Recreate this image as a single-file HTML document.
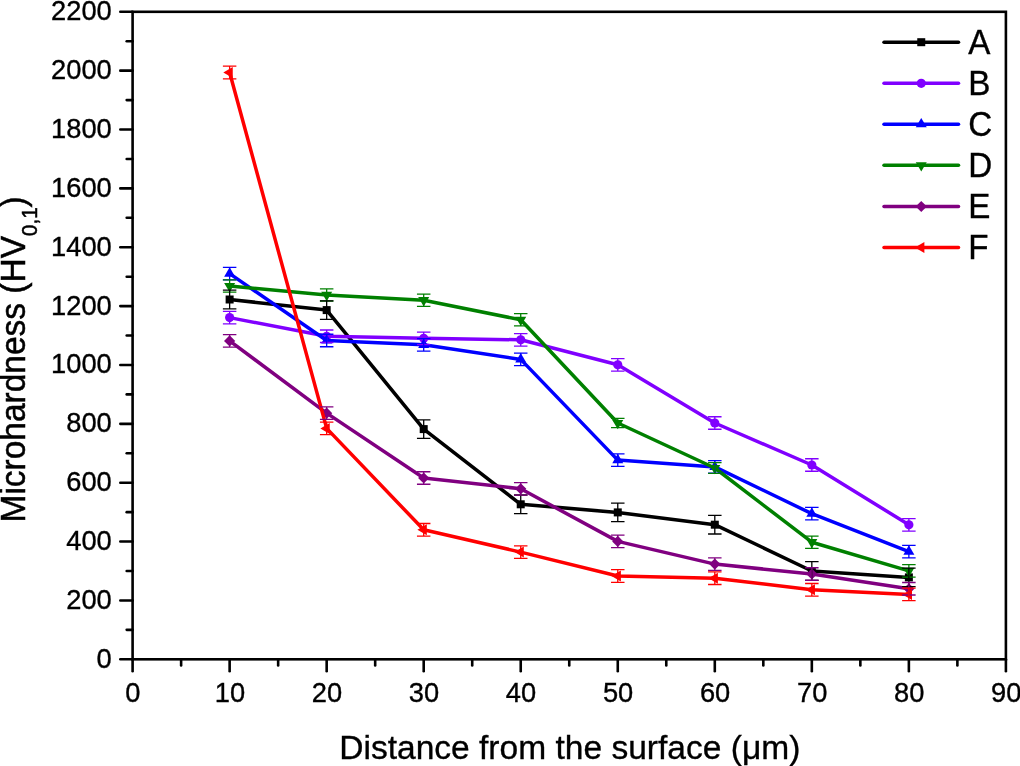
<!DOCTYPE html>
<html lang="en">
<head>
<meta charset="utf-8">
<title>Microhardness vs distance from the surface</title>
<style>
html,body{margin:0;padding:0;background:#fff;}
body{width:1020px;height:766px;overflow:hidden;}
svg{display:block;}
text{font-family:"Liberation Sans",Arial,Helvetica,sans-serif;fill:#000;}
.tick{font-size:27.3px;}
.lab{font-size:33.55px;}
text{stroke:#000;stroke-width:0.35px;}
.ax{stroke:#000;stroke-width:2.6;fill:none;stroke-linecap:round;}
</style>
</head>
<body>
<svg width="1020" height="766" viewBox="0 0 1020 766">
<rect x="0" y="0" width="1020" height="766" fill="#ffffff"/>

<rect class="ax" x="132.6" y="11.8" width="873.30" height="647.50"/>
<g class="ax">
<line x1="120.30" y1="659.30" x2="132.60" y2="659.30"/>
<line x1="126.70" y1="629.87" x2="132.60" y2="629.87"/>
<line x1="120.30" y1="600.44" x2="132.60" y2="600.44"/>
<line x1="126.70" y1="571.00" x2="132.60" y2="571.00"/>
<line x1="120.30" y1="541.57" x2="132.60" y2="541.57"/>
<line x1="126.70" y1="512.14" x2="132.60" y2="512.14"/>
<line x1="120.30" y1="482.71" x2="132.60" y2="482.71"/>
<line x1="126.70" y1="453.28" x2="132.60" y2="453.28"/>
<line x1="120.30" y1="423.85" x2="132.60" y2="423.85"/>
<line x1="126.70" y1="394.41" x2="132.60" y2="394.41"/>
<line x1="120.30" y1="364.98" x2="132.60" y2="364.98"/>
<line x1="126.70" y1="335.55" x2="132.60" y2="335.55"/>
<line x1="120.30" y1="306.12" x2="132.60" y2="306.12"/>
<line x1="126.70" y1="276.69" x2="132.60" y2="276.69"/>
<line x1="120.30" y1="247.25" x2="132.60" y2="247.25"/>
<line x1="126.70" y1="217.82" x2="132.60" y2="217.82"/>
<line x1="120.30" y1="188.39" x2="132.60" y2="188.39"/>
<line x1="126.70" y1="158.96" x2="132.60" y2="158.96"/>
<line x1="120.30" y1="129.53" x2="132.60" y2="129.53"/>
<line x1="126.70" y1="100.10" x2="132.60" y2="100.10"/>
<line x1="120.30" y1="70.66" x2="132.60" y2="70.66"/>
<line x1="126.70" y1="41.23" x2="132.60" y2="41.23"/>
<line x1="120.30" y1="11.80" x2="132.60" y2="11.80"/>
<line x1="132.60" y1="659.30" x2="132.60" y2="671.20"/>
<line x1="181.12" y1="659.30" x2="181.12" y2="665.40"/>
<line x1="229.63" y1="659.30" x2="229.63" y2="671.20"/>
<line x1="278.15" y1="659.30" x2="278.15" y2="665.40"/>
<line x1="326.67" y1="659.30" x2="326.67" y2="671.20"/>
<line x1="375.18" y1="659.30" x2="375.18" y2="665.40"/>
<line x1="423.70" y1="659.30" x2="423.70" y2="671.20"/>
<line x1="472.22" y1="659.30" x2="472.22" y2="665.40"/>
<line x1="520.73" y1="659.30" x2="520.73" y2="671.20"/>
<line x1="569.25" y1="659.30" x2="569.25" y2="665.40"/>
<line x1="617.77" y1="659.30" x2="617.77" y2="671.20"/>
<line x1="666.28" y1="659.30" x2="666.28" y2="665.40"/>
<line x1="714.80" y1="659.30" x2="714.80" y2="671.20"/>
<line x1="763.32" y1="659.30" x2="763.32" y2="665.40"/>
<line x1="811.83" y1="659.30" x2="811.83" y2="671.20"/>
<line x1="860.35" y1="659.30" x2="860.35" y2="665.40"/>
<line x1="908.87" y1="659.30" x2="908.87" y2="671.20"/>
<line x1="957.38" y1="659.30" x2="957.38" y2="665.40"/>
<line x1="1005.90" y1="659.30" x2="1005.90" y2="671.20"/>
</g>
<g class="tick" text-anchor="end">
<text transform="translate(111.8,667.70) scale(1,1.027)">0</text>
<text transform="translate(111.8,608.84) scale(1,1.027)">200</text>
<text transform="translate(111.8,549.97) scale(1,1.027)">400</text>
<text transform="translate(111.8,491.11) scale(1,1.027)">600</text>
<text transform="translate(111.8,432.25) scale(1,1.027)">800</text>
<text transform="translate(111.8,373.38) scale(1,1.027)">1000</text>
<text transform="translate(111.8,314.52) scale(1,1.027)">1200</text>
<text transform="translate(111.8,255.65) scale(1,1.027)">1400</text>
<text transform="translate(111.8,196.79) scale(1,1.027)">1600</text>
<text transform="translate(111.8,137.93) scale(1,1.027)">1800</text>
<text transform="translate(111.8,79.06) scale(1,1.027)">2000</text>
<text transform="translate(111.8,20.20) scale(1,1.027)">2200</text>
</g>
<g class="tick" text-anchor="middle">
<text transform="translate(132.90,702.0) scale(1,1.027)">0</text>
<text transform="translate(229.93,702.0) scale(1,1.027)">10</text>
<text transform="translate(326.97,702.0) scale(1,1.027)">20</text>
<text transform="translate(424.00,702.0) scale(1,1.027)">30</text>
<text transform="translate(521.03,702.0) scale(1,1.027)">40</text>
<text transform="translate(618.07,702.0) scale(1,1.027)">50</text>
<text transform="translate(715.10,702.0) scale(1,1.027)">60</text>
<text transform="translate(812.13,702.0) scale(1,1.027)">70</text>
<text transform="translate(909.17,702.0) scale(1,1.027)">80</text>
<text transform="translate(1006.20,702.0) scale(1,1.027)">90</text>
</g>
<text class="lab" transform="translate(339.2,758.6) scale(1,1.0)">Distance from the surface (μm)</text>
<text class="lab" transform="translate(24.8,522.5) rotate(-90) scale(1,1.04)" style="font-size:33.5px;stroke-width:0.5px">Microhardness (HV<tspan font-size="20.5" dy="11.70">0,1</tspan><tspan dy="-11.70">)</tspan></text>
<g><polyline points="229.63,299.50 326.67,310.10 423.70,429.10 520.73,504.30 617.77,512.40 714.80,524.70 811.83,571.00 908.87,577.40" fill="none" stroke="#000000" stroke-width="3.5" stroke-linejoin="round" stroke-linecap="round"/>
<rect x="225.63" y="295.50" width="8.00" height="8.00" fill="#000000"/>
<rect x="322.67" y="306.10" width="8.00" height="8.00" fill="#000000"/>
<rect x="419.70" y="425.10" width="8.00" height="8.00" fill="#000000"/>
<rect x="516.73" y="500.30" width="8.00" height="8.00" fill="#000000"/>
<rect x="613.77" y="508.40" width="8.00" height="8.00" fill="#000000"/>
<rect x="710.80" y="520.70" width="8.00" height="8.00" fill="#000000"/>
<rect x="807.83" y="567.00" width="8.00" height="8.00" fill="#000000"/>
<rect x="904.87" y="573.40" width="8.00" height="8.00" fill="#000000"/>
</g>
<g><polyline points="229.63,317.60 326.67,336.25 423.70,338.35 520.73,339.80 617.77,364.80 714.80,423.00 811.83,465.00 908.87,524.80" fill="none" stroke="#8000ff" stroke-width="3.5" stroke-linejoin="round" stroke-linecap="round"/>
<circle cx="229.63" cy="317.60" r="4.6" fill="#8000ff"/>
<circle cx="326.67" cy="336.25" r="4.6" fill="#8000ff"/>
<circle cx="423.70" cy="338.35" r="4.6" fill="#8000ff"/>
<circle cx="520.73" cy="339.80" r="4.6" fill="#8000ff"/>
<circle cx="617.77" cy="364.80" r="4.6" fill="#8000ff"/>
<circle cx="714.80" cy="423.00" r="4.6" fill="#8000ff"/>
<circle cx="811.83" cy="465.00" r="4.6" fill="#8000ff"/>
<circle cx="908.87" cy="524.80" r="4.6" fill="#8000ff"/>
</g>
<g><polyline points="229.63,273.60 326.67,340.50 423.70,344.85 520.73,359.40 617.77,460.10 714.80,466.90 811.83,513.70 908.87,551.55" fill="none" stroke="#0000ff" stroke-width="3.5" stroke-linejoin="round" stroke-linecap="round"/>
<polygon points="229.63,267.30 224.13,276.70 235.13,276.70" fill="#0000ff"/>
<polygon points="326.67,334.20 321.17,343.60 332.17,343.60" fill="#0000ff"/>
<polygon points="423.70,338.55 418.20,347.95 429.20,347.95" fill="#0000ff"/>
<polygon points="520.73,353.10 515.23,362.50 526.23,362.50" fill="#0000ff"/>
<polygon points="617.77,453.80 612.27,463.20 623.27,463.20" fill="#0000ff"/>
<polygon points="714.80,460.60 709.30,470.00 720.30,470.00" fill="#0000ff"/>
<polygon points="811.83,507.40 806.33,516.80 817.33,516.80" fill="#0000ff"/>
<polygon points="908.87,545.25 903.37,554.65 914.37,554.65" fill="#0000ff"/>
</g>
<g><polyline points="229.63,286.00 326.67,294.90 423.70,300.20 520.73,319.80 617.77,423.00 714.80,468.00 811.83,542.20 908.87,570.90" fill="none" stroke="#008000" stroke-width="3.5" stroke-linejoin="round" stroke-linecap="round"/>
<polygon points="229.63,292.30 224.13,282.90 235.13,282.90" fill="#008000"/>
<polygon points="326.67,301.20 321.17,291.80 332.17,291.80" fill="#008000"/>
<polygon points="423.70,306.50 418.20,297.10 429.20,297.10" fill="#008000"/>
<polygon points="520.73,326.10 515.23,316.70 526.23,316.70" fill="#008000"/>
<polygon points="617.77,429.30 612.27,419.90 623.27,419.90" fill="#008000"/>
<polygon points="714.80,474.30 709.30,464.90 720.30,464.90" fill="#008000"/>
<polygon points="811.83,548.50 806.33,539.10 817.33,539.10" fill="#008000"/>
<polygon points="908.87,577.20 903.37,567.80 914.37,567.80" fill="#008000"/>
</g>
<g><polyline points="229.63,340.90 326.67,413.15 423.70,478.00 520.73,488.80 617.77,541.40 714.80,564.10 811.83,574.00 908.87,588.75" fill="none" stroke="#800080" stroke-width="3.5" stroke-linejoin="round" stroke-linecap="round"/>
<polygon points="229.63,335.30 235.23,340.90 229.63,346.50 224.03,340.90" fill="#800080"/>
<polygon points="326.67,407.55 332.27,413.15 326.67,418.75 321.07,413.15" fill="#800080"/>
<polygon points="423.70,472.40 429.30,478.00 423.70,483.60 418.10,478.00" fill="#800080"/>
<polygon points="520.73,483.20 526.33,488.80 520.73,494.40 515.13,488.80" fill="#800080"/>
<polygon points="617.77,535.80 623.37,541.40 617.77,547.00 612.17,541.40" fill="#800080"/>
<polygon points="714.80,558.50 720.40,564.10 714.80,569.70 709.20,564.10" fill="#800080"/>
<polygon points="811.83,568.40 817.43,574.00 811.83,579.60 806.23,574.00" fill="#800080"/>
<polygon points="908.87,583.15 914.47,588.75 908.87,594.35 903.27,588.75" fill="#800080"/>
</g>
<g><polyline points="229.63,72.50 326.67,428.40 423.70,529.80 520.73,552.10 617.77,576.00 714.80,578.20 811.83,589.80 908.87,594.40" fill="none" stroke="#ff0000" stroke-width="3.5" stroke-linejoin="round" stroke-linecap="round"/>
<polygon points="223.33,72.50 232.73,67.00 232.73,78.00" fill="#ff0000"/>
<polygon points="320.37,428.40 329.77,422.90 329.77,433.90" fill="#ff0000"/>
<polygon points="417.40,529.80 426.80,524.30 426.80,535.30" fill="#ff0000"/>
<polygon points="514.43,552.10 523.83,546.60 523.83,557.60" fill="#ff0000"/>
<polygon points="611.47,576.00 620.87,570.50 620.87,581.50" fill="#ff0000"/>
<polygon points="708.50,578.20 717.90,572.70 717.90,583.70" fill="#ff0000"/>
<polygon points="805.53,589.80 814.93,584.30 814.93,595.30" fill="#ff0000"/>
<polygon points="902.57,594.40 911.97,588.90 911.97,599.90" fill="#ff0000"/>
</g>
<g stroke="#8000ff" stroke-width="1.3" fill="none">
<path d="M229.63 311.35V323.85M222.88 311.35H236.38M222.88 323.85H236.38"/>
<path d="M326.67 330.00V342.50M319.92 330.00H333.42M319.92 342.50H333.42"/>
<path d="M423.70 332.10V344.60M416.95 332.10H430.45M416.95 344.60H430.45"/>
<path d="M520.73 333.55V346.05M513.98 333.55H527.48M513.98 346.05H527.48"/>
<path d="M617.77 358.55V371.05M611.02 358.55H624.52M611.02 371.05H624.52"/>
<path d="M714.80 416.75V429.25M708.05 416.75H721.55M708.05 429.25H721.55"/>
<path d="M811.83 458.75V471.25M805.08 458.75H818.58M805.08 471.25H818.58"/>
<path d="M908.87 518.55V531.05M902.12 518.55H915.62M902.12 531.05H915.62"/>
</g>
<g stroke="#0000ff" stroke-width="1.3" fill="none">
<path d="M229.63 267.35V279.85M222.88 267.35H236.38M222.88 279.85H236.38"/>
<path d="M326.67 334.25V346.75M319.92 334.25H333.42M319.92 346.75H333.42"/>
<path d="M423.70 338.60V351.10M416.95 338.60H430.45M416.95 351.10H430.45"/>
<path d="M520.73 353.15V365.65M513.98 353.15H527.48M513.98 365.65H527.48"/>
<path d="M617.77 453.85V466.35M611.02 453.85H624.52M611.02 466.35H624.52"/>
<path d="M714.80 460.65V473.15M708.05 460.65H721.55M708.05 473.15H721.55"/>
<path d="M811.83 507.45V519.95M805.08 507.45H818.58M805.08 519.95H818.58"/>
<path d="M908.87 545.30V557.80M902.12 545.30H915.62M902.12 557.80H915.62"/>
</g>
<g stroke="#008000" stroke-width="1.3" fill="none">
<path d="M229.63 279.80V292.20M222.88 279.80H236.38M222.88 292.20H236.38"/>
<path d="M326.67 288.80V301.00M319.92 288.80H333.42M319.92 301.00H333.42"/>
<path d="M423.70 294.10V306.30M416.95 294.10H430.45M416.95 306.30H430.45"/>
<path d="M520.73 313.70V325.90M513.98 313.70H527.48M513.98 325.90H527.48"/>
<path d="M617.77 418.30V427.70M611.02 418.30H624.52M611.02 427.70H624.52"/>
<path d="M714.80 462.70V473.30M708.05 462.70H721.55M708.05 473.30H721.55"/>
<path d="M811.83 536.10V548.30M805.08 536.10H818.58M805.08 548.30H818.58"/>
<path d="M908.87 564.60V577.20M902.12 564.60H915.62M902.12 577.20H915.62"/>
</g>
<g stroke="#000000" stroke-width="1.3" fill="none">
<path d="M229.63 290.20V308.80M222.88 290.20H236.38M222.88 308.80H236.38"/>
<path d="M326.67 300.80V319.40M319.92 300.80H333.42M319.92 319.40H333.42"/>
<path d="M423.70 419.80V438.40M416.95 419.80H430.45M416.95 438.40H430.45"/>
<path d="M520.73 495.00V513.60M513.98 495.00H527.48M513.98 513.60H527.48"/>
<path d="M617.77 503.10V521.70M611.02 503.10H624.52M611.02 521.70H624.52"/>
<path d="M714.80 515.40V534.00M708.05 515.40H721.55M708.05 534.00H721.55"/>
<path d="M811.83 561.70V580.30M805.08 561.70H818.58M805.08 580.30H818.58"/>
<path d="M908.87 568.10V586.70M902.12 568.10H915.62M902.12 586.70H915.62"/>
</g>
<g stroke="#800080" stroke-width="1.3" fill="none">
<path d="M229.63 334.65V347.15M222.88 334.65H236.38M222.88 347.15H236.38"/>
<path d="M326.67 406.90V419.40M319.92 406.90H333.42M319.92 419.40H333.42"/>
<path d="M423.70 471.75V484.25M416.95 471.75H430.45M416.95 484.25H430.45"/>
<path d="M520.73 482.55V495.05M513.98 482.55H527.48M513.98 495.05H527.48"/>
<path d="M617.77 535.15V547.65M611.02 535.15H624.52M611.02 547.65H624.52"/>
<path d="M714.80 557.85V570.35M708.05 557.85H721.55M708.05 570.35H721.55"/>
<path d="M811.83 567.75V580.25M805.08 567.75H818.58M805.08 580.25H818.58"/>
<path d="M908.87 582.50V595.00M902.12 582.50H915.62M902.12 595.00H915.62"/>
</g>
<g stroke="#ff0000" stroke-width="1.3" fill="none">
<path d="M229.63 66.20V78.80M222.88 66.20H236.38M222.88 78.80H236.38"/>
<path d="M326.67 422.10V434.70M319.92 422.10H333.42M319.92 434.70H333.42"/>
<path d="M423.70 523.50V536.10M416.95 523.50H430.45M416.95 536.10H430.45"/>
<path d="M520.73 545.80V558.40M513.98 545.80H527.48M513.98 558.40H527.48"/>
<path d="M617.77 569.70V582.30M611.02 569.70H624.52M611.02 582.30H624.52"/>
<path d="M714.80 571.90V584.50M708.05 571.90H721.55M708.05 584.50H721.55"/>
<path d="M811.83 583.50V596.10M805.08 583.50H818.58M805.08 596.10H818.58"/>
<path d="M908.87 588.10V600.70M902.12 588.10H915.62M902.12 600.70H915.62"/>
</g>
<line x1="884" y1="42.2" x2="958.5" y2="42.2" stroke="#000000" stroke-width="3.5" stroke-linecap="round"/>
<rect x="917.25" y="38.20" width="8.00" height="8.00" fill="#000000"/>
<text class="lab" transform="translate(968.2,53.70) scale(1,1.045)" style="font-size:33.2px">A</text>
<line x1="884" y1="83.3" x2="958.5" y2="83.3" stroke="#8000ff" stroke-width="3.5" stroke-linecap="round"/>
<circle cx="921.25" cy="83.30" r="4.6" fill="#8000ff"/>
<text class="lab" transform="translate(968.2,94.80) scale(1,1.045)" style="font-size:33.2px">B</text>
<line x1="884" y1="124.2" x2="958.5" y2="124.2" stroke="#0000ff" stroke-width="3.5" stroke-linecap="round"/>
<polygon points="921.25,117.90 915.75,127.30 926.75,127.30" fill="#0000ff"/>
<text class="lab" transform="translate(968.2,135.70) scale(1,1.045)" style="font-size:33.2px">C</text>
<line x1="884" y1="165.25" x2="958.5" y2="165.25" stroke="#008000" stroke-width="3.5" stroke-linecap="round"/>
<polygon points="921.25,171.55 915.75,162.15 926.75,162.15" fill="#008000"/>
<text class="lab" transform="translate(968.2,176.75) scale(1,1.045)" style="font-size:33.2px">D</text>
<line x1="884" y1="206.5" x2="958.5" y2="206.5" stroke="#800080" stroke-width="3.5" stroke-linecap="round"/>
<polygon points="921.25,200.90 926.85,206.50 921.25,212.10 915.65,206.50" fill="#800080"/>
<text class="lab" transform="translate(968.2,218.00) scale(1,1.045)" style="font-size:33.2px">E</text>
<line x1="884" y1="247.6" x2="958.5" y2="247.6" stroke="#ff0000" stroke-width="3.5" stroke-linecap="round"/>
<polygon points="914.95,247.60 924.35,242.10 924.35,253.10" fill="#ff0000"/>
<text class="lab" transform="translate(968.2,259.10) scale(1,1.045)" style="font-size:33.2px">F</text>
</svg>
</body>
</html>
